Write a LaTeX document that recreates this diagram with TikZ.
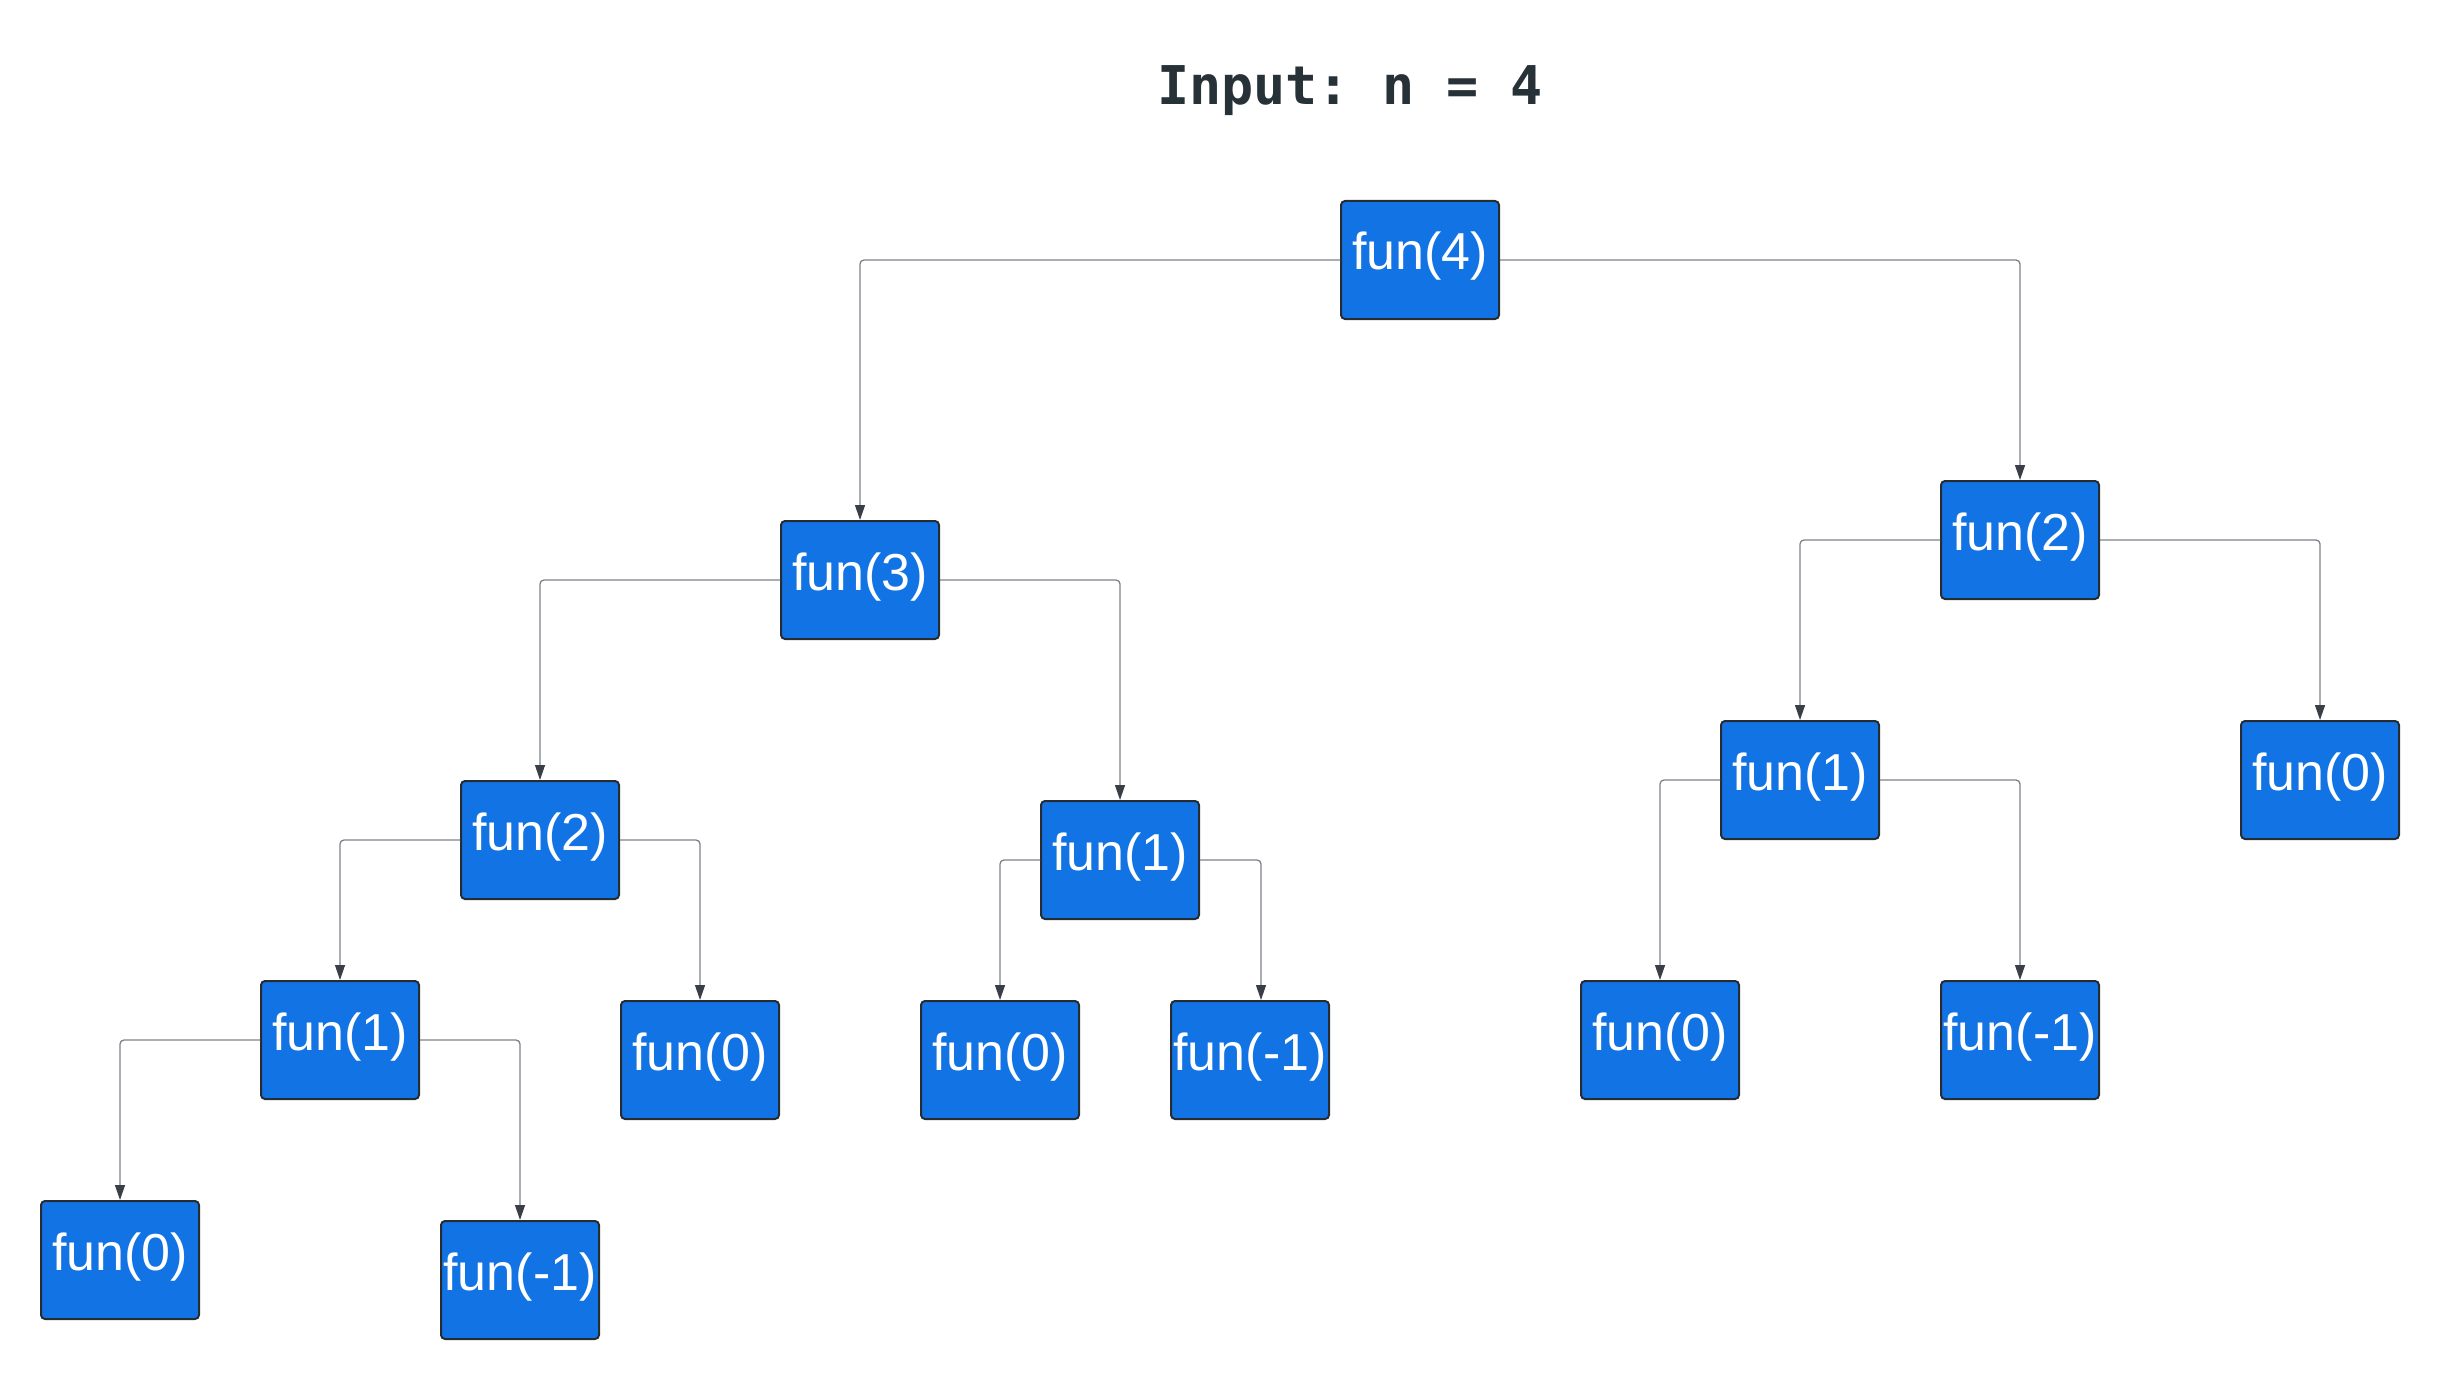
\documentclass[tikz,border=0pt]{standalone}
\usepackage{fontspec}
\setmainfont{Liberation Sans}
\newfontfamily\monofont{DejaVu Sans Mono}
\usetikzlibrary{arrows.meta,positioning}
\definecolor{boxblue}{HTML}{1273E4}
\definecolor{boxedge}{HTML}{272C33}
\definecolor{linegray}{HTML}{7D828A}
\definecolor{tipgray}{HTML}{3A3F47}
\definecolor{titlegray}{HTML}{263238}
\tikzset{
    call/.style={draw=boxedge, fill=boxblue, line width=1pt, rounded corners=2pt,
        minimum width=79pt, minimum height=59pt, inner sep=0pt, text=white,
        text height=15.5pt, text depth=5.5pt,
        font=\fontsize{26}{30}\selectfont},
    conn/.style={draw=linegray, line width=0.65pt, rounded corners=2pt,
        -{Triangle[length=7.5pt,width=5pt,color=tipgray]}}
}
\begin{document}
\begin{tikzpicture}[x=0.5pt,y=-0.5pt]
                        \useasboundingbox (0,0) rectangle (2440,1380);
                        \node[anchor=base, text=titlegray, font=\monofont\bfseries\fontsize{26.7}{32}\selectfont\frenchspacing] (title) at (1350,105) {Input: n = 4};
                        % calls, level by level
                        \foreach \name/\x/\y/\arg in {n4/1420/260/4,
                            n3/860/580/3, n2r/2020/540/2,
                            n2l/540/840/2, n1m/1120/860/1, n1r/1800/780/1, n0rr/2320/780/0,
                            n1l/340/1040/1, n0a/700/1060/0, n0b/1000/1060/0, m1c/1250/1060/-1, n0d/1660/1040/0, m1e/2020/1040/-1,
                            n0f/120/1260/0, m1g/520/1280/-1}
                        \node[call] (\name) at (\x,\y) {fun(\arg)};
                        \coordinate (m1ctop) at ([xshift=5.5pt]m1c.north);
                        % parent side -> child top
                        \foreach \a/\s/\b in {n4/west/n3.north, n4/east/n2r.north,
                            n3/west/n2l.north, n3/east/n1m.north, n2r/west/n1r.north, n2r/east/n0rr.north,
                            n2l/west/n1l.north, n2l/east/n0a.north, n1m/west/n0b.north, n1m/east/m1ctop,
                            n1r/west/n0d.north, n1r/east/m1e.north, n1l/west/n0f.north, n1l/east/m1g.north}
                        \draw[conn] (\a.\s) -| (\b);
                    \end{tikzpicture}
\end{document}
